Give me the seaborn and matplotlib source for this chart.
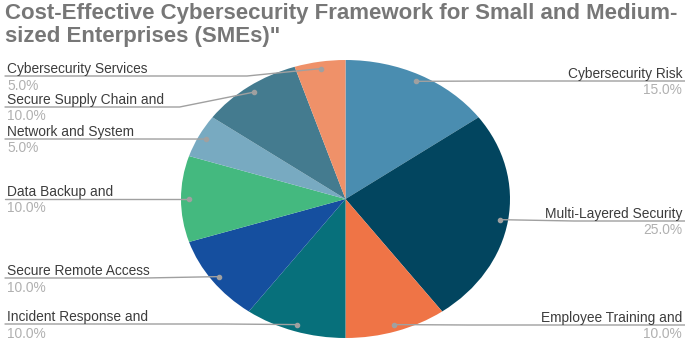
import numpy as np
import matplotlib
matplotlib.use("Agg")
import matplotlib.pyplot as plt
import seaborn as sns

# data (clockwise from 12 o'clock)
labels = ["Cybersecurity Risk", "Multi-Layered Security", "Employee Training and",
          "Incident Response and", "Secure Remote Access", "Data Backup and",
          "Network and System", "Secure Supply Chain and", "Cybersecurity Services"]
shares = [15.0, 25.0, 10.0, 10.0, 10.0, 10.0, 5.0, 10.0, 5.0]
colors = ["#4a8db0", "#02455f", "#ef7446", "#07707b", "#154f9f",
          "#44b97f", "#78aac1", "#447b8f", "#ef9169"]
title = "Cost-Effective Cybersecurity Framework for Small and Medium-\nsized Enterprises (SMEs)\""

# layout: y of the leader line under each label (pixels from top), side of label
line_y = [81, 221, 325, 324, 278, 199, 139, 107, 76]
side = ["r", "r", "r", "l", "l", "l", "l", "l", "l"]

sns.set_theme(style="white")
plt.rcParams["font.family"] = ["Liberation Sans", "DejaVu Sans"]

W, H = 685, 343
cx, cy, rx, ry = 345.5, 199, 164.5, 139

fig = plt.figure(figsize=(W / 100, H / 100), dpi=100)
ax = fig.add_axes([0, 0, 1, 1])

def px(x, y):
    return (x - cx) / rx, (cy - y) / ry

wedges, _ = ax.pie(shares, colors=sns.color_palette(colors), startangle=90,
                   counterclock=False, wedgeprops=dict(linewidth=0))
ax.set_aspect("auto")
ax.set_xlim(px(0, 0)[0], px(W, 0)[0])
ax.set_ylim(px(0, H)[1], px(0, 0)[1])
ax.axis("off")

grey = "#a0a0a0"
for w, lab, val, ly, s in zip(wedges, labels, shares, line_y, side):
    th = np.deg2rad((w.theta1 + w.theta2) / 2)
    dx, dy = 0.95 * np.cos(th), 0.95 * np.sin(th)
    _, lyd = px(0, ly)
    if s == "l":
        ex = px(5, 0)[0]
        elbow = dx - 0.45
        tx, ha = px(7, 0)[0], "left"
    else:
        ex = px(W, 0)[0]
        elbow = dx + 0.45
        tx, ha = px(W - 3, 0)[0], "right"
    ax.plot([dx, elbow, ex], [dy, lyd, lyd], color=grey, lw=1.0, clip_on=False)
    ax.plot([dx], [dy], "o", color=grey, ms=3, clip_on=False)
    ax.text(tx, px(0, ly - 3)[1], lab, ha=ha, va="baseline", fontsize=9.9, color="#3c3c3c")
    ax.text(tx, px(0, ly + 2.5)[1], f"{val:.1f}%", ha=ha, va="top", fontsize=9.9, color="#b0b0b0")

fig.text(5 / W, 1 - 3 / H, title, ha="left", va="top", fontsize=16, fontweight="bold",
         color="#777777", linespacing=1.15)

fig.savefig("out.png", dpi=100)
